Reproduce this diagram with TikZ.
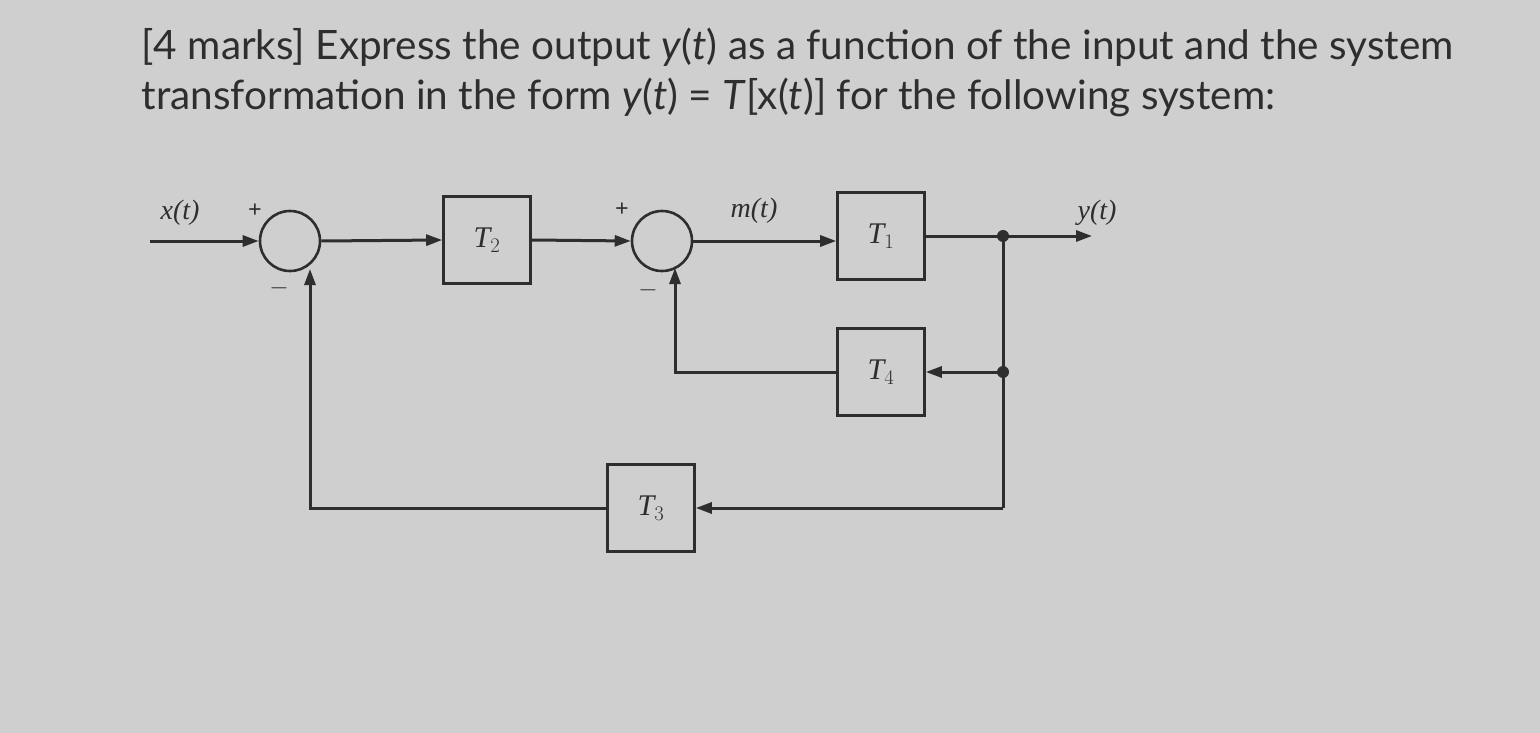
\documentclass[tikz,border=0pt]{standalone}
\usepackage{fontspec}
\setmainfont{Lato}
\newfontfamily\lblfont{Liberation Serif}
\usetikzlibrary{arrows.meta}
\definecolor{bg}{HTML}{CFCFCF}
\definecolor{ink}{HTML}{2E2E2E}
\begin{document}
\begin{tikzpicture}[x=1pt,y=-1pt,
  blk/.style={draw=ink,line width=2.6pt,minimum width=87pt,minimum height=87pt,inner sep=0pt,font=\lblfont\itshape\fontsize{30}{32}\selectfont,text=ink},
  sumc/.style={draw=ink,line width=2.6pt,circle,minimum size=60pt,inner sep=0pt},
  wire/.style={draw=ink,line width=3pt},
  arr/.style={wire,-{Triangle[length=16pt,width=11pt]}},
  lbl/.style={font=\lblfont\itshape\fontsize{28}{30}\selectfont,text=ink},
  sgn/.style={font=\lblfont\bfseries\fontsize{24}{26}\selectfont,text=ink},
  dot/.style={circle,fill=ink,inner sep=0pt,minimum size=12pt}]
\fill[bg] (0,0) rectangle (1540,733);
\useasboundingbox (0,0) rectangle (1540,733);
\node[anchor=west,text=ink,font=\fontsize{40.5}{46}\selectfont] (t1) at (138,47) {[4 marks] Express the output \textit{y}(\textit{t}) as a function of the input and the system};
\node[anchor=west,text=ink,font=\fontsize{40.5}{46}\selectfont] (t2) at (138,97) {transformation in the form \textit{y}(\textit{t}) = \textit{T}[x(\textit{t})] for the following system:};
\node[sumc] (s1) at (290,241) {};
\node[sumc] (s2) at (662,241) {};
\node[blk] (b2) at (487,240) {T$_2$};
\node[blk] (b1) at (881,236) {T$_1$};
\node[blk] (b4) at (881,372) {T$_4$};
\node[blk] (b3) at (651,508) {T$_3$};
\coordinate (in) at (150,241);
\coordinate (out) at (1092,236);
\node[dot] (d1) at (1003,236) {};
\node[dot] (d2) at (1003,372) {};
\coordinate (c3) at (1003,508);
\node[lbl] (lx) at (180,213) {x(t)};
\node[lbl] (lm) at (754,211) {m(t)};
\node[lbl] (ly) at (1097,213) {y(t)};
\node[sgn] (p1) at (255,211) {+};
\node[sgn] (m1) at (279,288) {$-$};
\node[sgn] (p2) at (622,210) {+};
\node[sgn] (m2) at (648,290) {$-$};
\draw[arr] (in) -- (s1.west);
\draw[arr] (s1.east) -- (b2.west);
\draw[arr] (b2.east) -- (s2.west);
\draw[arr] (s2.east) -- (s2.east -| b1.west);
\draw[arr] (b1.east) -- (out);
\draw[wire] (d1.center) -- (c3);
\draw[arr] (d2.center) -- (b4.east);
\draw[arr] (c3) -- (b3.east);
\draw[arr] (b4.west) -| (675,268);
\draw[arr] (b3.west) -| (310,269);
\end{tikzpicture}
\end{document}
